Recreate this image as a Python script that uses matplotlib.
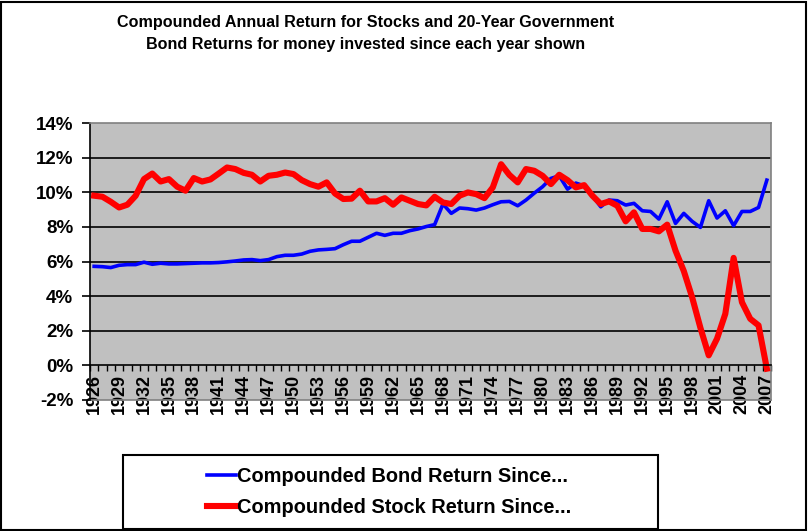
import matplotlib
matplotlib.use("Agg")
import matplotlib.pyplot as plt
from matplotlib.patches import Rectangle
from matplotlib.ticker import FixedLocator, FuncFormatter

years = list(range(1926, 2008))

bond = [5.72, 5.70, 5.65, 5.78, 5.82, 5.82, 5.96, 5.84, 5.90, 5.86,
        5.86, 5.88, 5.90, 5.92, 5.92, 5.94, 5.98, 6.03, 6.09, 6.11,
        6.05, 6.11, 6.28, 6.36, 6.36, 6.43, 6.59, 6.67, 6.70, 6.74,
        6.97, 7.17, 7.17, 7.40, 7.63, 7.51, 7.63, 7.63, 7.78, 7.88,
        8.02, 8.13, 9.32, 8.78, 9.09, 9.05, 8.97, 9.09, 9.28, 9.45,
        9.47, 9.22, 9.55, 9.95, 10.32, 10.80, 10.95, 10.18, 10.53, 10.37,
        9.80, 9.16, 9.55, 9.51, 9.26, 9.36, 8.93, 8.89, 8.45, 9.45,
        8.20, 8.78, 8.32, 7.97, 9.51, 8.51, 8.93, 8.07, 8.89, 8.89,
        9.12, 10.70]

stock = [9.80, 9.74, 9.45, 9.12, 9.28, 9.80, 10.76, 11.08, 10.62, 10.76,
         10.32, 10.09, 10.82, 10.62, 10.74, 11.08, 11.43, 11.34, 11.12, 11.01,
         10.62, 10.95, 11.01, 11.14, 11.05, 10.70, 10.47, 10.32, 10.57, 9.93,
         9.61, 9.63, 10.09, 9.47, 9.47, 9.66, 9.28, 9.70, 9.51, 9.32,
         9.24, 9.74, 9.41, 9.32, 9.80, 9.99, 9.89, 9.66, 10.28, 11.62,
         11.00, 10.57, 11.34, 11.24, 10.95, 10.47, 11.01, 10.70, 10.28, 10.41,
         9.80, 9.32, 9.47, 9.22, 8.32, 8.84, 7.88, 7.88, 7.74, 8.13,
         6.63, 5.45, 3.94, 2.17, 0.58, 1.54, 2.98, 6.21, 3.65, 2.69,
         2.31, -0.19]

y_ticks = [-2, 0, 2, 4, 6, 8, 10, 12, 14]
title_lines = ["Compounded Annual Return for Stocks and 20-Year Government",
               "Bond Returns for money invested since each year shown"]
bond_label = "Compounded Bond Return Since..."
stock_label = "Compounded Stock Return Since..."

W, H = 809, 531
fig = plt.figure(figsize=(W / 100, H / 100), dpi=100)
plt.rcParams['font.family'] = ['Liberation Sans', 'DejaVu Sans']

L, R, T, B = 90, 771, 123, 400
ax = fig.add_axes([L / W, 1 - B / H, (R - L) / W, (B - T) / H])
ax.set_facecolor('#C0C0C0')

x = list(range(len(years)))
ax.set_xlim(-0.5, len(years) - 0.5)
ax.set_ylim(-2, 14)

for g in [2, 4, 6, 8, 10, 12]:
    ax.axhline(g, color='black', lw=1.2, zorder=1)

lb, = ax.plot(x, bond, color='#0000FF', lw=2.6, solid_joinstyle='round', zorder=3, label=bond_label)
ls, = ax.plot(x, stock, color='#FF0000', lw=4.4, solid_joinstyle='round', zorder=4, label=stock_label)

# spines
for s in ['top', 'right']:
    ax.spines[s].set_color('#808080')
    ax.spines[s].set_linewidth(1.2)
ax.spines['left'].set_color('black')
ax.spines['left'].set_linewidth(1.2)
ax.spines['bottom'].set_position(('data', 0))
ax.spines['bottom'].set_color('black')
ax.spines['bottom'].set_linewidth(1.2)
ax.spines['bottom'].set_zorder(5)
ax.axhline(-2, color='#808080', lw=1.2, zorder=2, clip_on=False)

ax.set_yticks(y_ticks)
ax.yaxis.set_major_formatter(FuncFormatter(lambda v, p: f"{int(v)}%"))
ax.tick_params(axis='y', direction='out', length=6, width=1.2, color='black',
               labelsize=13.5, pad=6)
for t in ax.get_yticklabels():
    t.set_fontweight('bold')

label_pos = x[::3]
ax.set_xticks(label_pos)
ax.set_xticklabels([str(years[i]) for i in label_pos], rotation=90,
                   fontsize=13, fontweight='bold')
ax.xaxis.set_minor_locator(FixedLocator([i - 0.5 for i in range(len(years) + 1)]))
ax.tick_params(axis='x', which='major', length=0, pad=6)
ax.tick_params(axis='x', which='minor', direction='out', length=4, width=1.0, color='black')

# title
fig.text(366 / W, 1 - 22 / H, title_lines[0], ha='center', va='center',
         fontsize=11.6, fontweight='bold')
fig.text(366 / W, 1 - 45 / H, title_lines[1], ha='center', va='center',
         fontsize=11.6, fontweight='bold')

# legend box
fig.patches.append(Rectangle((123 / W, 1 - 529 / H), (658 - 123) / W, (529 - 455) / H,
                             transform=fig.transFigure, fill=False, edgecolor='black', lw=1.5))
leg = fig.legend(handles=[lb, ls], loc='center', bbox_to_anchor=(389 / W, 1 - 492 / H),
                 frameon=False, prop={'weight': 'bold', 'size': 14.4}, handlelength=1.45,
                 handletextpad=0.05, labelspacing=0.6, borderpad=0)

# figure border
fig.patches.append(Rectangle((1 / W, 1 / H), (806 - 1) / W, (529 - 1) / H,
                             transform=fig.transFigure, fill=False, edgecolor='black', lw=1.5))

fig.savefig('out.png', dpi=100)
